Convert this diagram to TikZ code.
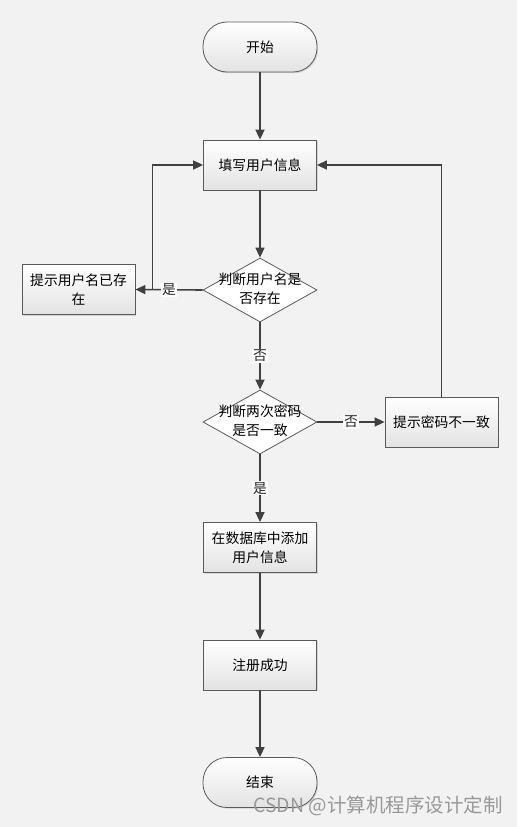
\documentclass[tikz,border=0pt]{standalone}
\usepackage{fontspec}
\setmainfont{Noto Sans CJK SC}
\newfontfamily\wmfont{Noto Sans CJK SC}
\usetikzlibrary{shapes.geometric,arrows.meta,shadows}
\definecolor{bg}{HTML}{F2F2F2}
\definecolor{ln}{HTML}{404040}
\definecolor{bd}{HTML}{5A5A5A}
\begin{document}
\begin{tikzpicture}[x=1pt,y=-1pt,
  font=\fontsize{13.8}{19}\selectfont,
  boxbase/.style={draw=bd, line width=0.8pt, top color=white, bottom color=black!11,
    drop shadow={shadow xshift=1.2pt, shadow yshift=-1.2pt, opacity=0.25}},
  procbox/.style={boxbase, rectangle, minimum width=113pt, minimum height=50pt, inner sep=2pt, align=center, text width=108pt},
  termbox/.style={boxbase, rectangle, rounded corners=24pt, minimum width=114pt, minimum height=50pt},
  decbox/.style={diamond, draw=bd, line width=0.8pt, fill=white, minimum width=114pt, minimum height=64pt, inner sep=0pt},
  arr/.style={draw=ln, line width=1.6pt, -{Triangle[length=10pt,width=9pt]}},
  lbl/.style={fill=white, inner sep=1pt, text=black!85}
]
\fill[bg] (0,0) rectangle (517,827);
\useasboundingbox (0,0) rectangle (517,827);

\node[termbox] (start) at (260,47) {开始};
\node[procbox] (fill) at (260,165) {填写用户信息};
\node[decbox] (d1) at (260,290) {};
\node[align=center, inner sep=0pt] (d1t) at (260,289) {判断用户名是\\否存在};
\node[procbox] (tip1) at (78.5,289.5) {提示用户名已存\\在};
\node[decbox] (d2) at (260,422) {};
\node[align=center, inner sep=0pt] (d2t) at (260,421) {判断两次密码\\是否一致};
\node[procbox] (tip2) at (441.5,422) {提示密码不一致};
\node[procbox] (db) at (260,547.5) {在数据库中添加\\用户信息};
\node[procbox] (ok) at (260,665) {注册成功};
\node[termbox] (end) at (260,782.5) {结束};

\draw[arr] (start) -- (fill);
\draw[arr] (fill) -- (d1);
\draw[arr] (d1.west) -- node[lbl] {是} (tip1.east);
\draw[arr] (tip1.east) -- ++(17,0) |- (fill.west);
\draw[arr] (d1.south) -- node[lbl] {否} (d2.north);
\draw[arr] (d2.east) -- node[lbl] {否} (tip2.west);
\draw[arr] (tip2.north) |- (fill.east);
\draw[arr] (d2.south) -- node[lbl] {是} (db.north);
\draw[arr] (db) -- (ok);
\draw[arr] (ok) -- (end);

\node[text=black!40, font=\wmfont\fontsize{19.5}{22}\selectfont, anchor=east, inner sep=0pt] (wm) at (503,806) {CSDN @计算机程序设计定制};
\end{tikzpicture}
\end{document}
